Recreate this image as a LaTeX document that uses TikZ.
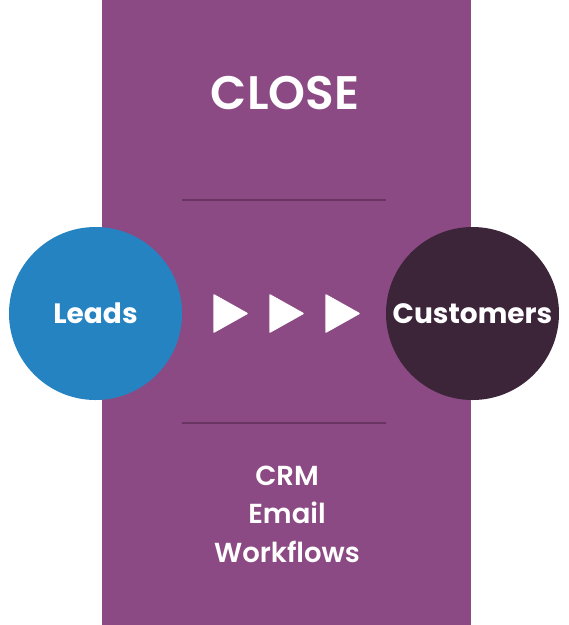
\documentclass[tikz,border=0pt]{standalone}
\usepackage{fontspec}
\setmainfont{Poppins}
\newfontfamily\semifont{Poppins SemiBold}
\definecolor{purp}{HTML}{8B4A83}
\definecolor{purpline}{HTML}{6A3462}
\definecolor{leadblue}{HTML}{2683C2}
\definecolor{custdark}{HTML}{3C2539}
\begin{document}
\begin{tikzpicture}[x=1pt,y=-1pt,
  stage/.style={circle,minimum size=173pt,inner sep=0pt,text=white,font=\fontsize{28}{30}\selectfont\bfseries},
  sep/.style={draw=purpline,line width=1.6pt},
  arrowtri/.style={fill=white,draw=white,line width=1.5pt,line join=round},
  toollist/.style={text=white,align=center,font=\semifont\fontsize{27.5}{38.5}\selectfont}]
\useasboundingbox (0,0) rectangle (569,625);
\fill[purp] (102,0) rectangle (471,625);
\node[text=white,font=\semifont\fontsize{47}{50}\selectfont] (title) at (285,93) {CLOSE};
\coordinate (l1a) at (182,200); \coordinate (l1b) at (386,200);
\coordinate (l2a) at (182,423); \coordinate (l2b) at (386,423);
\draw[sep] (l1a) -- (l1b);
\draw[sep] (l2a) -- (l2b);
\node[stage,fill=leadblue] (leads) at (95.5,313.5) {Leads};
\node[stage,fill=custdark] (cust) at (472.5,313.5) {Customers};
\foreach \x in {214,270,326}{
  \draw[arrowtri] (\x,295) -- (\x+33,313.5) -- (\x,332) -- cycle;
}
\node[toollist] (tools) at (287,514) {CRM\\Email\\Workflows};
\end{tikzpicture}
\end{document}
